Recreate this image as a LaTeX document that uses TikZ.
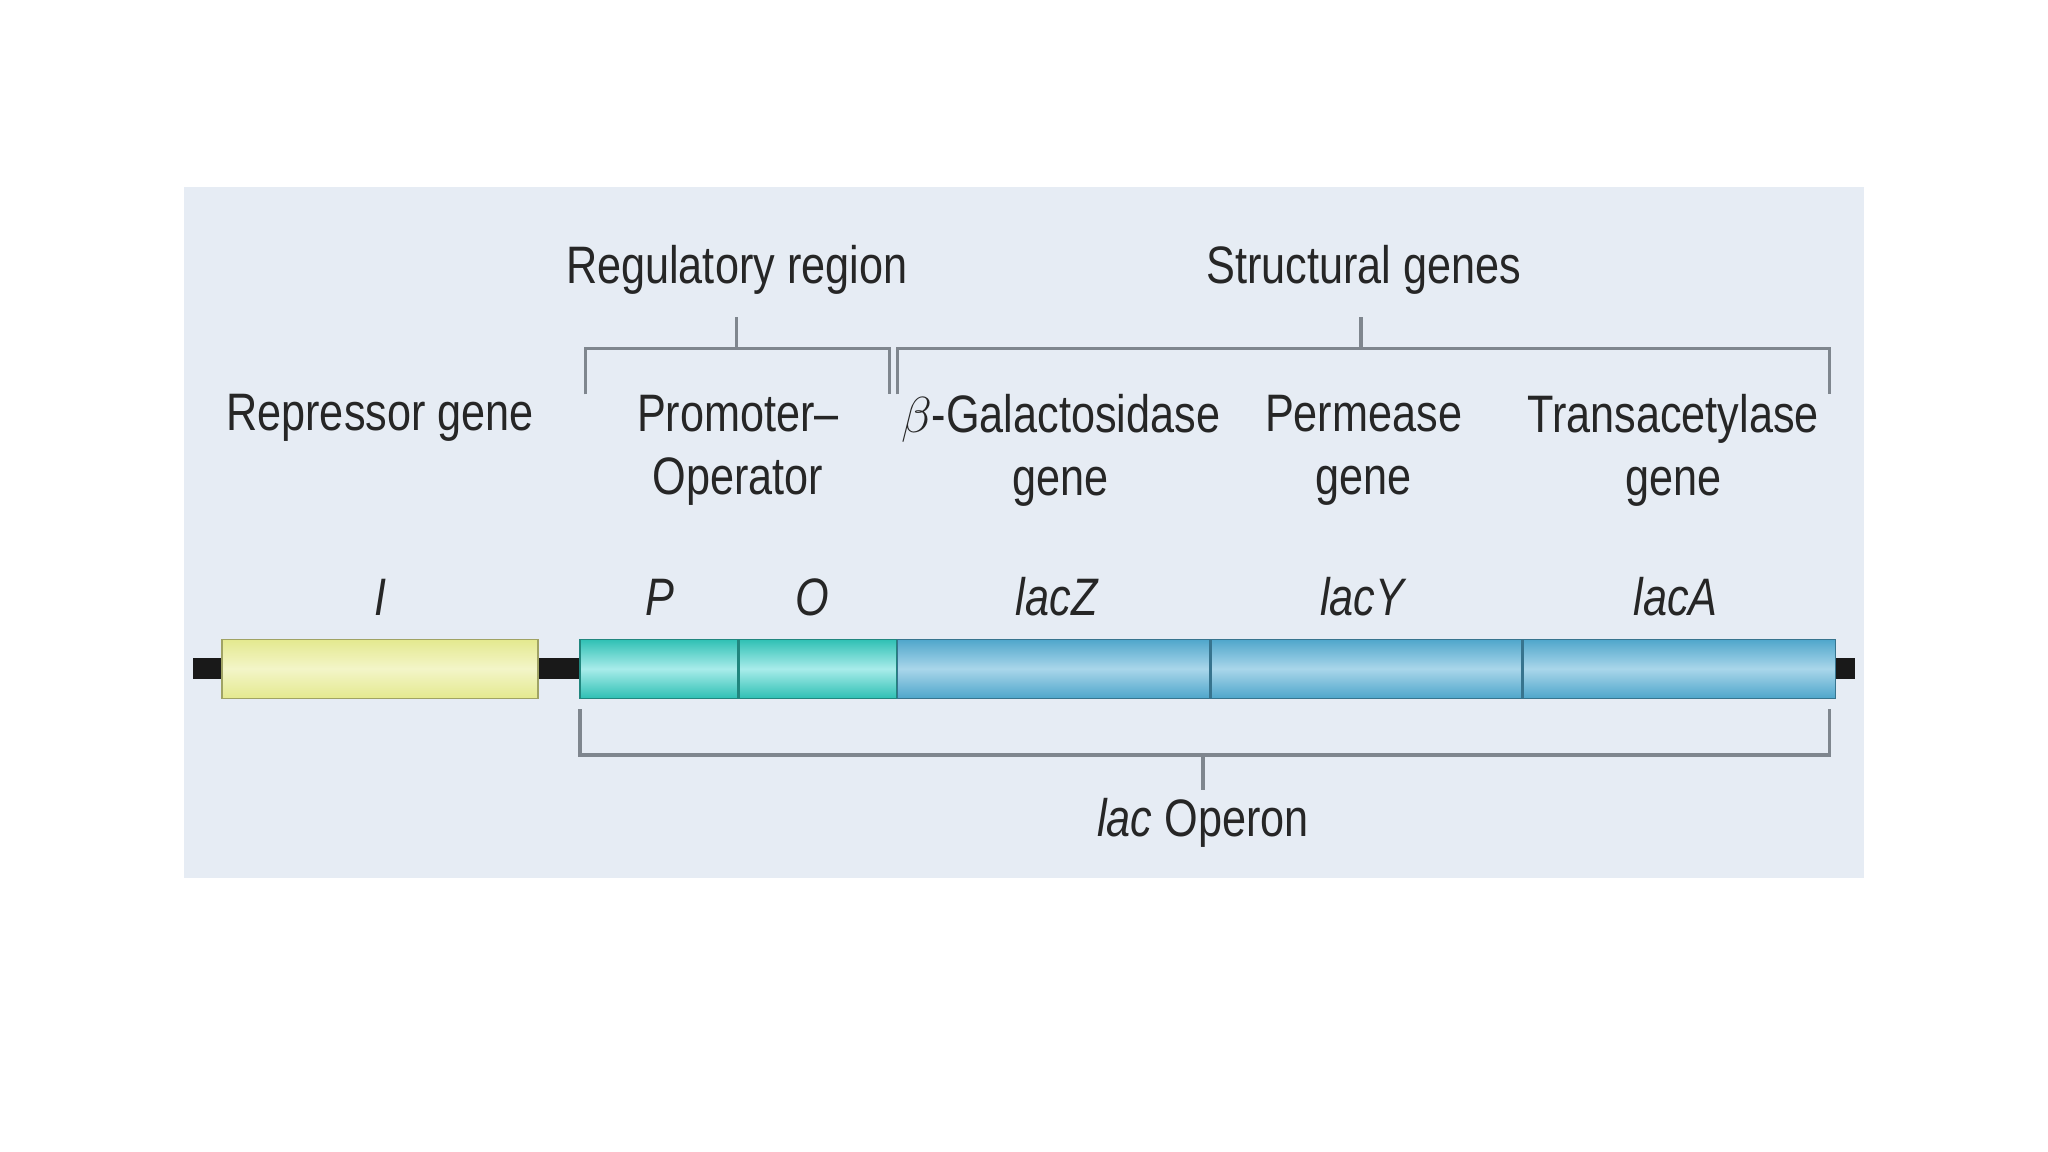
\documentclass[tikz,border=0pt]{standalone}
\usepackage{fontspec}
\setmainfont{Liberation Sans}[FakeStretch=0.82]
\usetikzlibrary{positioning}

\definecolor{panel}{HTML}{E6ECF4}
\definecolor{repr}{HTML}{E4E98F}
\definecolor{reprhi}{HTML}{F3F5C8}
\definecolor{prom}{HTML}{2FC0B4}
\definecolor{promhi}{HTML}{A8ECEA}
\definecolor{struc}{HTML}{4FA6CB}
\definecolor{struchi}{HTML}{A9D6EA}
\definecolor{brk}{HTML}{7F868E}

\tikzset{
  lbl/.style={font=\fontsize{15}{18}\selectfont, align=center, text=black!85},
  gene/.style={font=\fontsize{15}{18}\selectfont\itshape, text=black!85},
  seg/.style={minimum height=0.59cm, inner sep=0pt, draw=#1!70!black, line width=0.4pt,
    top color=#1, bottom color=#1, middle color=#1hi},
  bracket/.style={draw=brk, line width=0.9pt}
}

\begin{document}
\begin{tikzpicture}[x=0.01306cm, y=-0.01306cm]
  \useasboundingbox (0,0) rectangle (1568,882);
  \fill[panel] (141,143) rectangle (1427,672);

  % DNA strand
  \fill[black!90] (148,504) rectangle (1420,520);

  % gene segments
  \node (I) [seg=repr, minimum width=3.16cm] at (291,512) {};
  \node (P) [seg=prom, minimum width=1.58cm] at (504.5,512) {};
  \node (O) [seg=prom, minimum width=1.57cm, right=0pt of P] {};
  \node (Z) [seg=struc, minimum width=3.12cm, right=0pt of O] {};
  \node (Y) [seg=struc, minimum width=3.11cm, right=0pt of Z] {};
  \node (A) [seg=struc, minimum width=3.12cm, right=0pt of Y] {};

  % gene symbols
  \node (tI) [gene] at (291,457) {I};
  \node (tP) [gene] at (505,457) {P};
  \node (tO) [gene] at (622,457) {O};
  \node (tZ) [gene] at (809,457) {lacZ};
  \node (tY) [gene] at (1043,457) {lacY};
  \node (tA) [gene] at (1283,457) {lacA};

  % gene names
  \node (nI) [lbl] at (291,320) {Repressor gene};
  \node (nPO) [lbl] at (565,345) {Promoter–\\Operator};
  \node (nZ) [lbl] at (812,345) {$\beta$-Galactosidase\\gene};
  \node (nY) [lbl] at (1044,345) {Permease\\gene};
  \node (nA) [lbl] at (1281,345) {Transacetylase\\gene};

  % top brackets
  \draw[bracket] (448,302) -- (448,267) -- (681,267) -- (681,302);
  \draw[bracket] (564,267) -- (564,243);
  \node (reg) [lbl] at (564,207) {Regulatory region};
  \draw[bracket] (687,302) -- (687,267) -- (1401,267) -- (1401,302);
  \draw[bracket] (1042,267) -- (1042,243);
  \node (str) [lbl] at (1044,207) {Structural genes};

  % operon bracket
  \draw[bracket] (444,543) -- (444,578) -- (1401,578) -- (1401,543);
  \draw[bracket] (921,578) -- (921,605);
  \node (op) [lbl] at (921,630) {\itshape lac\upshape\ Operon};
\end{tikzpicture}
\end{document}
